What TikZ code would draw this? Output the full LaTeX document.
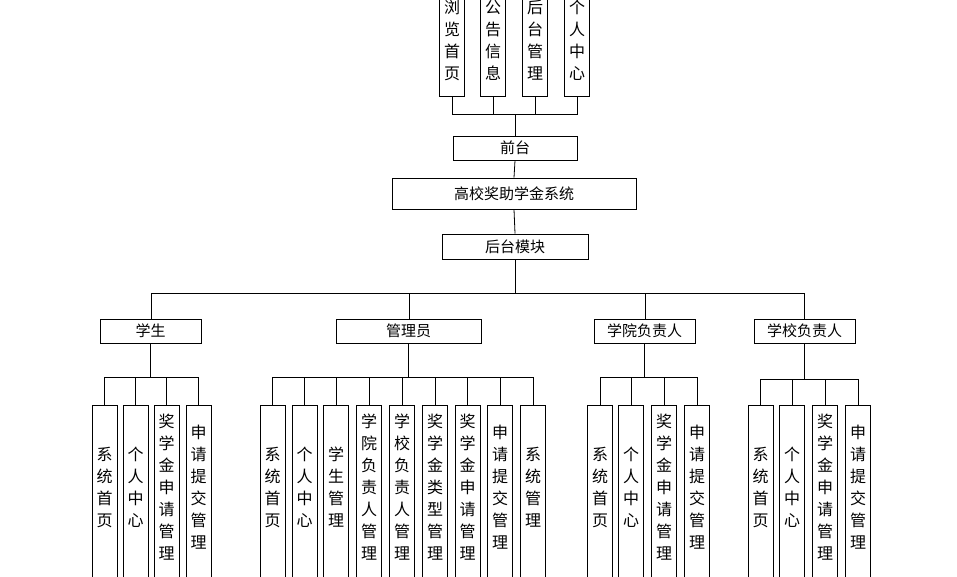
\documentclass[tikz,border=0pt]{standalone}
\usepackage{fontspec}
\setmainfont{Noto Sans CJK SC}
\tikzset{
 box/.style={draw,line width=0.8pt,inner sep=0pt,font=\fontsize{15}{18}\selectfont},
 vbox/.style={draw,line width=0.8pt,minimum width=25pt,inner sep=0pt},
 vtext/.style={font=\fontsize{16}{22}\selectfont,align=center,inner sep=0pt},
 ln/.style={line width=0.8pt}
}
\newcommand{\vt}[1]{\begin{tabular}{@{}c@{}}#1\end{tabular}}
\begin{document}
\begin{tikzpicture}[x=1pt,y=-1pt]
\useasboundingbox[fill=white] (0,0) rectangle (957,576);
\begin{scope}
\clip (0,0) rectangle (957,576);
% top boxes
\foreach \n/\x/\t in {t1/452/{浏\\览\\首\\页},t2/493/{公\\告\\信\\息},t3/535/{后\\台\\管\\理},t4/577/{个\\人\\中\\心}}{
  \node[vbox,minimum height=126pt] (\n) at (\x,33) {};
  \node[vtext] at (\x,42) {\vt{\t}};
}
\node[box,minimum width=124pt,minimum height=24pt] (qt) at (515,148) {前台};
\node[box,minimum width=244pt,minimum height=31pt] (sys) at (514,193.5) {高校奖助学金系统};
\node[box,minimum width=146pt,minimum height=25pt] (ht) at (515,246.5) {后台模块};
\foreach \n in {t1,t2,t3,t4}{\draw[ln] (\n.south) |- (515,114);}
\draw[ln] (515,114) -- (qt.north);
\draw[ln] (qt.south) -- (sys.north);
\draw[ln] (sys.south) -- (ht.north);
% roles
\node[box,minimum width=101pt,minimum height=24pt] (r1) at (150.5,331) {学生};
\node[box,minimum width=145pt,minimum height=24pt] (r2) at (408.5,331) {管理员};
\node[box,minimum width=101pt,minimum height=24pt] (r3) at (644.5,331) {学院负责人};
\node[box,minimum width=101pt,minimum height=24pt] (r4) at (804.5,331) {学校负责人};
\foreach \n/\x in {r1/151,r2/409,r3/645,r4/804}{\draw[ln] (ht.south) |- (\x,293) -- (\x,319);}
% children
\foreach \r/\by/\lst in {
 r1/377/{104.5/{系\\统\\首\\页},135.5/{个\\人\\中\\心},166.5/{奖\\学\\金\\申\\请\\管\\理},198.5/{申\\请\\提\\交\\管\\理}},
 r2/377/{272.5/{系\\统\\首\\页},304.5/{个\\人\\中\\心},336/{学\\生\\管\\理},369/{学\\院\\负\\责\\人\\管\\理},402/{学\\校\\负\\责\\人\\管\\理},435/{奖\\学\\金\\类\\型\\管\\理},467.5/{奖\\学\\金\\申\\请\\管\\理},500/{申\\请\\提\\交\\管\\理},533/{系\\统\\管\\理}},
 r3/377/{600/{系\\统\\首\\页},631/{个\\人\\中\\心},664/{奖\\学\\金\\申\\请\\管\\理},697/{申\\请\\提\\交\\管\\理}},
 r4/379/{760.5/{系\\统\\首\\页},792/{个\\人\\中\\心},825/{奖\\学\\金\\申\\请\\管\\理},858/{申\\请\\提\\交\\管\\理}}}{
  \draw[ln] (\r.south) -- (\r.south |- 0,\by);
  \foreach \x/\t [count=\i] in \lst {
    \node[vbox,minimum height=200pt,anchor=north] (\r c\i) at (\x,405) {};
    \node[vtext] at (\x,489) {\vt{\t}};
    \draw[ln] (\r c\i.north) -- (\x,\by) -- (\r.south |- 0,\by);
  }
}
\end{scope}
\end{tikzpicture}
\end{document}
